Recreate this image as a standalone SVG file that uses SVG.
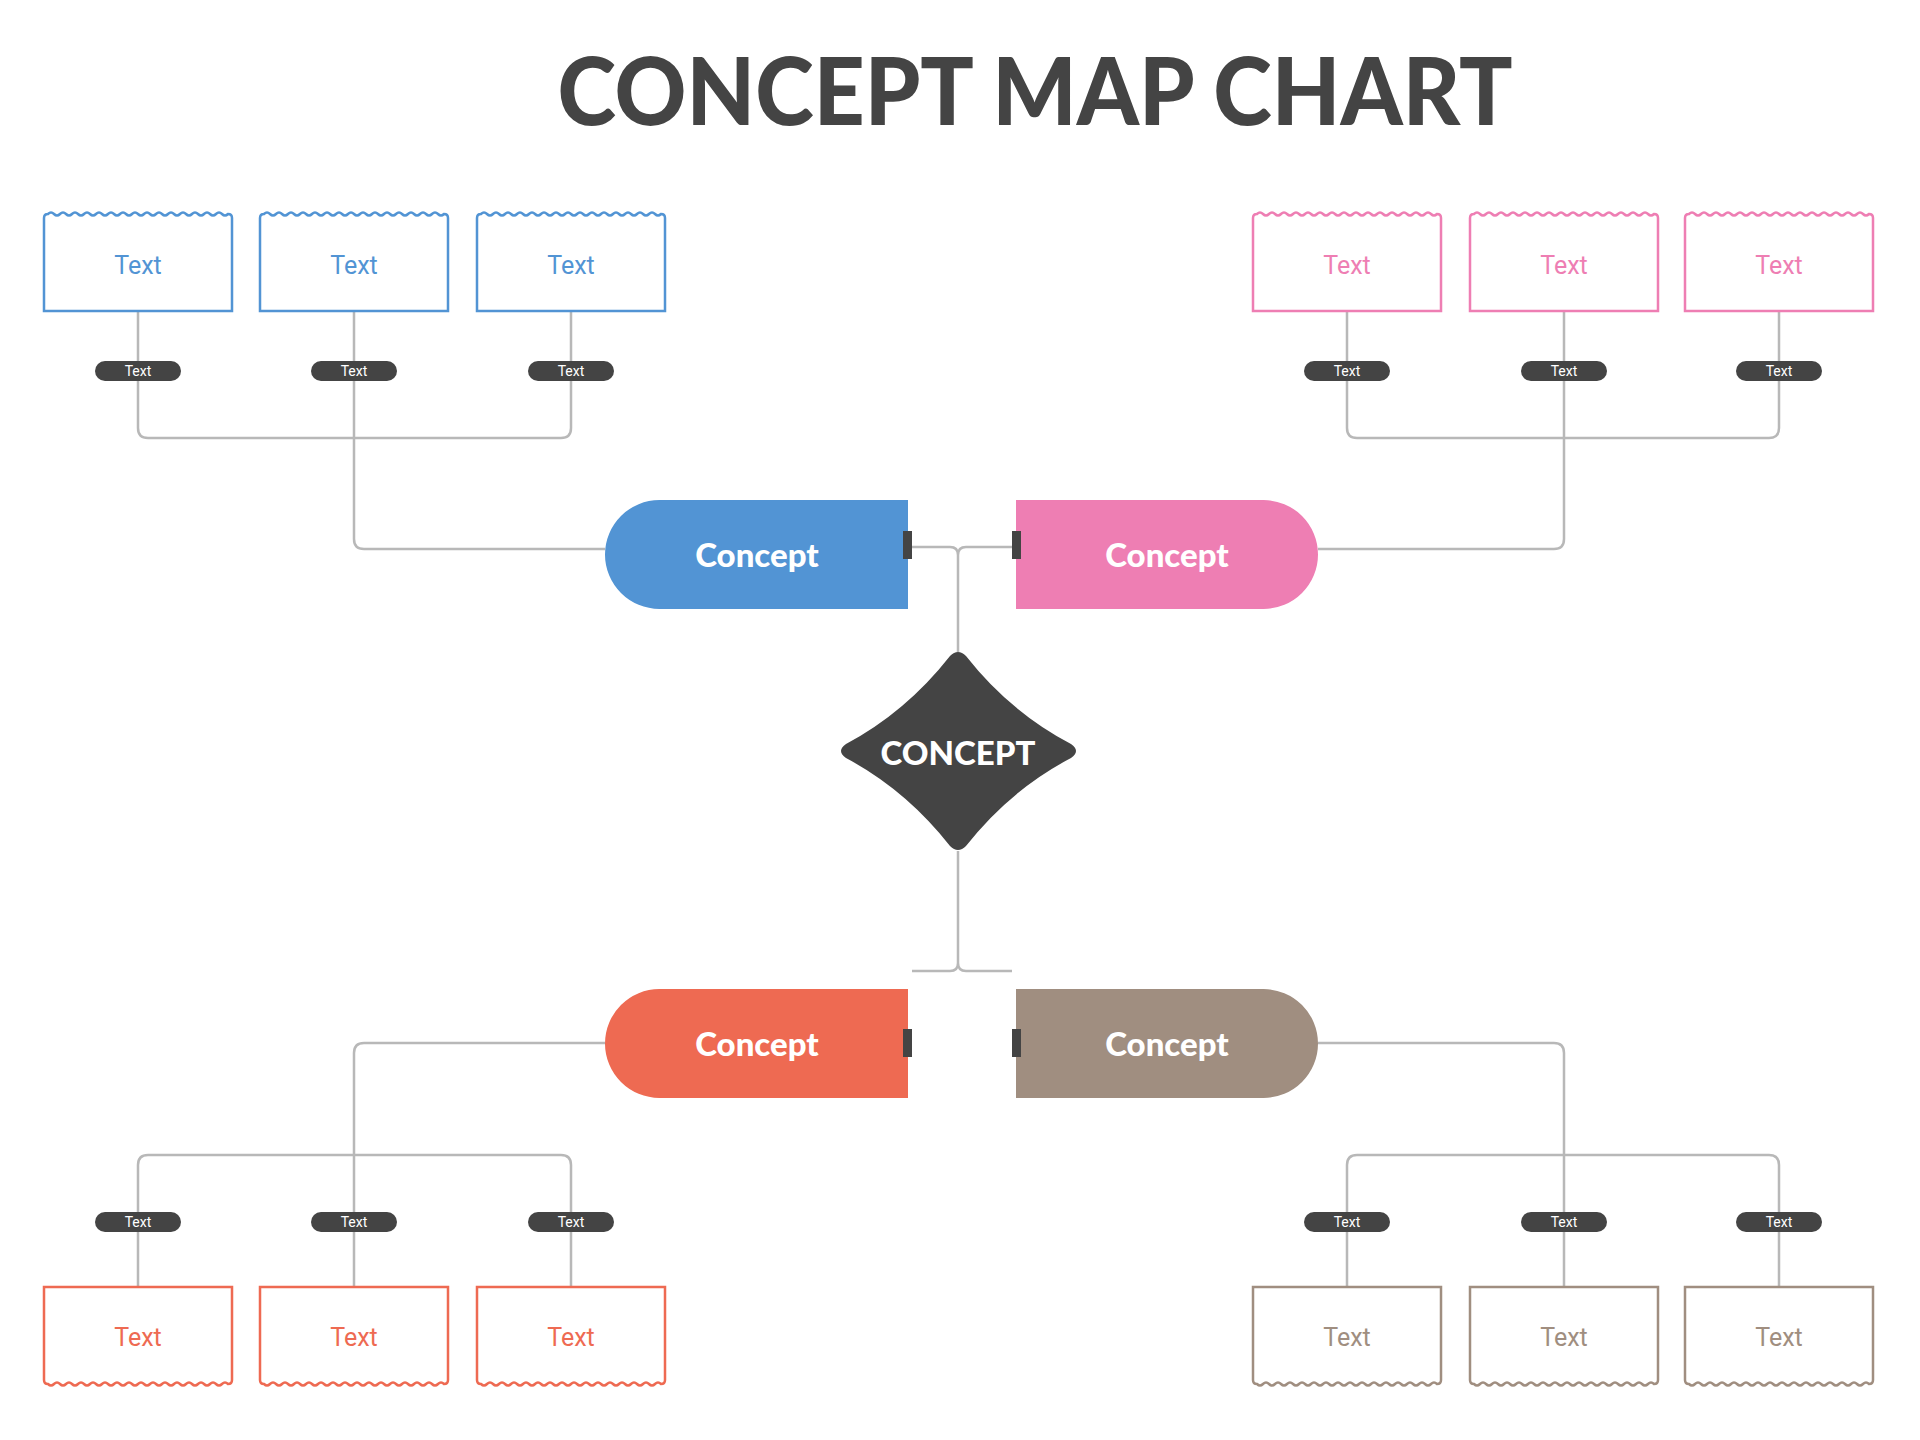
<svg xmlns="http://www.w3.org/2000/svg" xmlns:xlink="http://www.w3.org/1999/xlink" width="1920" height="1440" viewBox="0 0 1920 1440">
<style>
.ln{fill:none;stroke:#b8b8b8;stroke-width:2.5}
.bx{fill:#fff;stroke-width:2.5}
.bt{font-family:Roboto,"Liberation Sans",sans-serif;font-size:25px;text-anchor:middle;dominant-baseline:central}
.pt{font-family:Roboto,"Liberation Sans",sans-serif;font-size:14px;fill:#fff;text-anchor:middle;dominant-baseline:central}
.ct{font-family:Lato,"Liberation Sans",sans-serif;font-weight:900;font-size:33px;fill:#fff;text-anchor:middle;dominant-baseline:central}
.pill{fill:#444}
</style>
<defs>
<path id="wb" d="M0,99 V6 q0,-4 4,-4 q3,-3 6,0 q3,3 6,0 q3,-3 6,0 q3,3 6,0 q3,-3 6,0 q3,3 6,0 q3,-3 6,0 q3,3 6,0 q3,-3 6,0 q3,3 6,0 q3,-3 6,0 q3,3 6,0 q3,-3 6,0 q3,3 6,0 q3,-3 6,0 q3,3 6,0 q3,-3 6,0 q3,3 6,0 q3,-3 6,0 q3,3 6,0 q3,-3 6,0 q3,3 6,0 q3,-3 6,0 q3,3 6,0 q3,-3 6,0 q3,3 6,0 q3,-3 6,0 q3,3 6,0 q3,-3 6,0 q3,3 6,0 q4,0 4,4 V99 Z"/>
<rect id="pl" x="-43" y="-10" width="86" height="20" rx="10"/>
</defs>
<text x="1035" y="88" font-family="Lato,'Liberation Sans',sans-serif" font-weight="900" font-size="94" fill="#444" text-anchor="middle" dominant-baseline="central" textLength="955" lengthAdjust="spacingAndGlyphs">CONCEPT MAP CHART</text>
<g id="connectors">
<path class="ln" d="M138,311 V428 q0,10 10,10 H561 q10,0 10,-10 V311 M354,311 V539 q0,10 10,10 H605"/>
<path class="ln" d="M1347,311 V428 q0,10 10,10 H1769 q10,0 10,-10 V311 M1564,311 V539 q0,10 -10,10 H1318"/>
<path class="ln" d="M138,1287 V1165 q0,-10 10,-10 H561 q10,0 10,10 V1287 M354,1287 V1053 q0,-10 10,-10 H605"/>
<path class="ln" d="M1347,1287 V1165 q0,-10 10,-10 H1769 q10,0 10,10 V1287 M1564,1287 V1053 q0,-10 -10,-10 H1318"/>
<path class="ln" d="M912,547 H950 q8,0 8,8 V652 M1012,547 H966 q-8,0 -8,8 M958,851 V963 q0,8 -8,8 H912 M958,963 q0,8 8,8 H1012"/>
</g>
<g id="blue-leaves" fill="#5294d4">
<use xlink:href="#wb" transform="translate(44,212)" class="bx" stroke="#5294d4"/>
<use xlink:href="#wb" transform="translate(260,212)" class="bx" stroke="#5294d4"/>
<use xlink:href="#wb" transform="translate(477,212)" class="bx" stroke="#5294d4"/>
<text class="bt" x="138" y="265">Text</text><text class="bt" x="354" y="265">Text</text><text class="bt" x="571" y="265">Text</text>
</g>
<g id="pink-leaves" fill="#ee7eb3">
<use xlink:href="#wb" transform="translate(1253,212)" class="bx" stroke="#ee7eb3"/>
<use xlink:href="#wb" transform="translate(1470,212)" class="bx" stroke="#ee7eb3"/>
<use xlink:href="#wb" transform="translate(1685,212)" class="bx" stroke="#ee7eb3"/>
<text class="bt" x="1347" y="265">Text</text><text class="bt" x="1564" y="265">Text</text><text class="bt" x="1779" y="265">Text</text>
</g>
<g id="orange-leaves" fill="#ee6a52">
<use xlink:href="#wb" transform="translate(44,1386) scale(1,-1)" class="bx" stroke="#ee6a52"/>
<use xlink:href="#wb" transform="translate(260,1386) scale(1,-1)" class="bx" stroke="#ee6a52"/>
<use xlink:href="#wb" transform="translate(477,1386) scale(1,-1)" class="bx" stroke="#ee6a52"/>
<text class="bt" x="138" y="1337">Text</text><text class="bt" x="354" y="1337">Text</text><text class="bt" x="571" y="1337">Text</text>
</g>
<g id="brown-leaves" fill="#a08e80">
<use xlink:href="#wb" transform="translate(1253,1386) scale(1,-1)" class="bx" stroke="#a08e80"/>
<use xlink:href="#wb" transform="translate(1470,1386) scale(1,-1)" class="bx" stroke="#a08e80"/>
<use xlink:href="#wb" transform="translate(1685,1386) scale(1,-1)" class="bx" stroke="#a08e80"/>
<text class="bt" x="1347" y="1337">Text</text><text class="bt" x="1564" y="1337">Text</text><text class="bt" x="1779" y="1337">Text</text>
</g>
<g id="labels">
<use xlink:href="#pl" class="pill" x="138" y="371"/><text class="pt" x="138" y="371">Text</text>
<use xlink:href="#pl" class="pill" x="354" y="371"/><text class="pt" x="354" y="371">Text</text>
<use xlink:href="#pl" class="pill" x="571" y="371"/><text class="pt" x="571" y="371">Text</text>
<use xlink:href="#pl" class="pill" x="1347" y="371"/><text class="pt" x="1347" y="371">Text</text>
<use xlink:href="#pl" class="pill" x="1564" y="371"/><text class="pt" x="1564" y="371">Text</text>
<use xlink:href="#pl" class="pill" x="1779" y="371"/><text class="pt" x="1779" y="371">Text</text>
<use xlink:href="#pl" class="pill" x="138" y="1222"/><text class="pt" x="138" y="1222">Text</text>
<use xlink:href="#pl" class="pill" x="354" y="1222"/><text class="pt" x="354" y="1222">Text</text>
<use xlink:href="#pl" class="pill" x="571" y="1222"/><text class="pt" x="571" y="1222">Text</text>
<use xlink:href="#pl" class="pill" x="1347" y="1222"/><text class="pt" x="1347" y="1222">Text</text>
<use xlink:href="#pl" class="pill" x="1564" y="1222"/><text class="pt" x="1564" y="1222">Text</text>
<use xlink:href="#pl" class="pill" x="1779" y="1222"/><text class="pt" x="1779" y="1222">Text</text>
</g>
<g id="concept-blue">
<path fill="#5294d4" d="M659.5,500 H908 V609 H659.5 A54.5,54.5 0 0 1 659.5,500 Z"/>
<rect x="903" y="531" width="9" height="28" fill="#444"/>
<text class="ct" x="757" y="554">Concept</text>
</g>
<g id="concept-pink">
<path fill="#ee7eb3" d="M1016,500 H1263.5 A54.5,54.5 0 0 1 1263.5,609 H1016 Z"/>
<rect x="1012" y="531" width="9" height="28" fill="#444"/>
<text class="ct" x="1167" y="554">Concept</text>
</g>
<g id="concept-orange">
<path fill="#ee6a52" d="M659.5,989 H908 V1098 H659.5 A54.5,54.5 0 0 1 659.5,989 Z"/>
<rect x="903" y="1029" width="9" height="28" fill="#444"/>
<text class="ct" x="757" y="1043">Concept</text>
</g>
<g id="concept-brown">
<path fill="#a08e80" d="M1016,989 H1263.5 A54.5,54.5 0 0 1 1263.5,1098 H1016 Z"/>
<rect x="1012" y="1029" width="9" height="28" fill="#444"/>
<text class="ct" x="1167" y="1043">Concept</text>
</g>
<g id="concept-center">
<path fill="#444" d="M950,656 Q958,648 966,656 Q1010,712 1071,744 Q1081,751 1071,758 Q1010,790 966,846 Q958,854 950,846 Q906,790 846,758 Q836,751 846,744 Q906,712 950,656 Z"/>
<text class="ct" x="958" y="752" font-size="29">CONCEPT</text>
</g>
</svg>
